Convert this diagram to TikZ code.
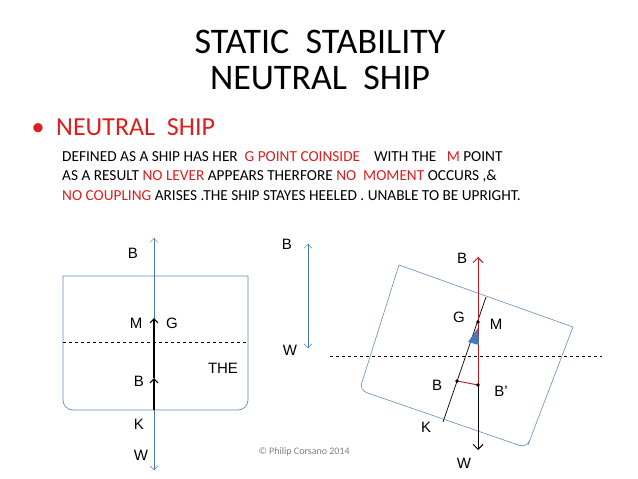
\documentclass[tikz,border=0pt]{standalone}
\usepackage{fontspec}
\setmainfont{Carlito}
\newfontfamily\arial{Liberation Sans}
\usetikzlibrary{arrows.meta}
\definecolor{rd}{RGB}{220,30,30}
\definecolor{bl}{RGB}{70,120,180}
\definecolor{hull}{RGB}{100,140,190}
\tikzset{lab/.style={font=\arial\fontsize{15}{15}\selectfont,inner sep=0},
 barr/.style={bl,{Straight Barb[length=4pt]}-{Straight Barb[length=4pt]}},
 hullst/.style={hull,line width=0.7pt},
 wl/.style={dashed,line width=0.6pt},
 dot/.style={circle,fill=black,inner sep=1.3pt}}
\begin{document}
\begin{tikzpicture}[x=1pt,y=-1pt]
\useasboundingbox (0,0) rectangle (638,479);
\node (t1) at (320,42) {\fontsize{36}{36}\selectfont STATIC\ \ STABILITY};
\node (t2) at (320,78) {\fontsize{36}{36}\selectfont NEUTRAL\ \ SHIP};
\node[anchor=west,text=rd] (bul) at (28,127) {\fontsize{26}{26}\selectfont \textbullet\ \ NEUTRAL\ \ SHIP};
\begin{scope}[every node/.style={anchor=west,font=\fontsize{15.3}{15.3}\selectfont,inner sep=0}]
\node (l1) at (62,157) {DEFINED AS\ A SHIP HAS HER\ \ \textcolor{rd}{G POINT}\ \textcolor{rd}{COINSIDE}\ \ \ \ WITH THE\ \ \ \textcolor{rd}{M} POINT};
\node (l2) at (62,176) {AS A RESULT \textcolor{rd}{NO LEVER} APPEARS THERFORE \textcolor{rd}{NO\ \ MOMENT}\ OCCURS ,\&};
\node (l3) at (62,196) {\textcolor{rd}{NO COUPLING}\ ARISES .THE SHIP STAYES HEELED . UNABLE TO BE UPRIGHT.};
\end{scope}
% left ship
\draw[hullst] (63,276) -- (63,400) [rounded corners=10pt] -- (63,410) -- (248,410) [sharp corners] -- (248,400) -- (248,276) -- cycle;
\draw[wl] (63,342) -- (248,342);
\coordinate (lB) at (154,238); \coordinate (lW) at (154,470);
\draw[barr] (lW) -- (lB);
\coordinate (lK) at (154,410); \coordinate (lBp) at (154,378); \coordinate (lM) at (154,318);
\draw[line width=1.2pt,-{Straight Barb[length=4pt]}] (lK) -- (lBp);
\draw[line width=1.2pt,-{Straight Barb[length=4pt]}] (lBp) -- (lM);
\node[lab] (a1) at (133,253) {B};
\node[lab] (a2) at (136,323) {M};
\node[lab] (a3) at (172,323) {G};
\node[lab] (a4) at (223,368) {THE};
\node[lab] (a5) at (139,381) {B};
\node[lab] (a6) at (139,424) {K};
\node[lab] (a7) at (141,455) {W};
% middle
\coordinate (mB) at (308,244); \coordinate (mW) at (308,348);
\draw[barr] (mW) -- (mB);
\node[lab] (m1) at (287,244) {B};
\node[lab] (m2) at (290,350) {W};
% right ship
\draw[hull,line width=0.6pt] (573,327) -- (399,265) -- (363,379) [rounded corners=8pt] -- (359,390) -- (527,448) -- (531,437) [sharp corners] -- (573,327);
\draw[wl] (330,356) -- (602,356);
\coordinate (rM) at (478,322); \coordinate (rBp) at (478,385); \coordinate (rTop) at (478,257);
\coordinate (rW) at (478,450); \coordinate (rB) at (457,381);
\coordinate (rK) at (443,422); \coordinate (rT) at (486,297);
\draw[line width=0.7pt] (rK) -- (rT);
\draw[rd!85!black,line width=0.9pt,-{Straight Barb[length=5pt]}] (rBp) -- (rTop);
\draw[line width=0.9pt,-{Straight Barb[length=5pt]}] (rBp) -- (rW);
\draw[rd!85!black,line width=0.9pt] (rB) -- (rBp);
\fill[bl] (468,342) -- (478,328) -- (479,345) -- cycle;
\node[dot] (dM) at (rM) {};
\node[dot] (dB) at (rB) {};
\node[dot] (dBp) at (rBp) {};
\node[lab] (r1) at (462,258) {B};
\node[lab] (r2) at (459,317) {G};
\node[lab] (r3) at (496,324) {M};
\node[lab] (r4) at (437,385) {B};
\node[lab] (r5) at (501,391) {B’};
\node[lab] (r6) at (426,427) {K};
\node[lab] (r7) at (464,463) {W};
\node[text=gray,font=\fontsize{10}{10}\selectfont,anchor=west] (c) at (255,452) {© Philip Corsano 2014};
\end{tikzpicture}
\end{document}
